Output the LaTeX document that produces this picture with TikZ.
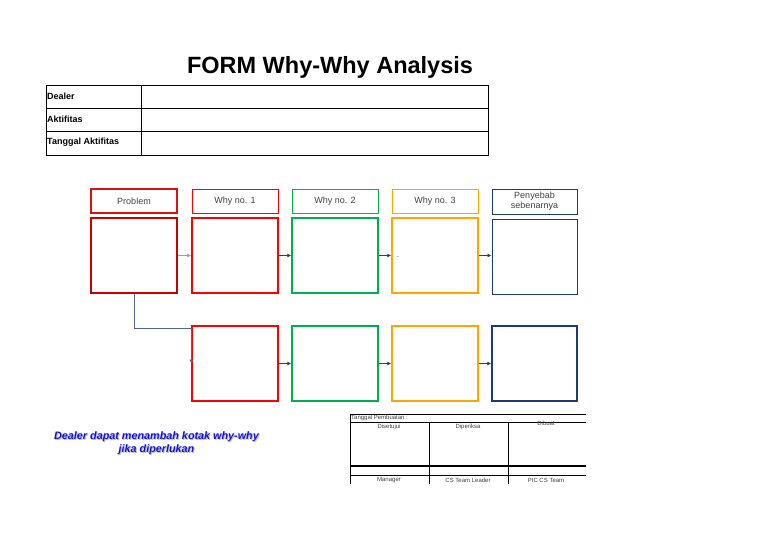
\documentclass[tikz,border=0pt]{standalone}
\usepackage{fontspec}
\setmainfont{Liberation Sans}
\usetikzlibrary{arrows.meta}
\definecolor{probred}{HTML}{C80000}
\definecolor{headred}{HTML}{E01010}
\definecolor{whyred}{HTML}{FF0000}
\definecolor{whygreen}{HTML}{00B050}
\definecolor{whyorange}{HTML}{FFA500}
\definecolor{causeblue}{HTML}{1F3A7A}
\definecolor{connblue}{HTML}{22407A}
\definecolor{txtgray}{HTML}{404040}
\definecolor{noteblue}{HTML}{1010E0}
\begin{document}
\begin{tikzpicture}[x=1pt, y=-1pt,
  every node/.style={inner sep=0pt, font=\fontsize{9}{10}\selectfont},
  head/.style={draw, line width=1pt, minimum width=86pt, minimum height=24pt, text=txtgray, align=center},
  box/.style={draw, line width=1.5pt, minimum width=86pt, minimum height=75pt},
  conn/.style={draw=connblue, line width=0.7pt, -{Latex[length=4pt,width=4pt]}},
  lbl/.style={anchor=west, font=\bfseries\fontsize{9}{10}\selectfont},
  sig/.style={text=txtgray, font=\fontsize{6}{7}\selectfont}]
  \fill[white] (0,0) rectangle (768,543);
  \useasboundingbox (0,0) rectangle (768,543);
  \node[font=\bfseries\fontsize{23.5}{28}\selectfont] (title) at (330,67) {FORM Why-Why Analysis};
  % header table
  \draw[line width=0.8pt] (46,85) rectangle (488,155);
  \draw[line width=0.8pt] (46,108) -- (488,108) (46,131) -- (488,131) (141,85) -- (141,155);
  \node[lbl] (dealer) at (47,96) {Dealer};
  \node[lbl] (aktif) at (47,119) {Aktifitas};
  \node[lbl] (tgl) at (47,142) {Tanggal Aktifitas};
  % column heads
  \node[head, draw=headred, line width=1.2pt] (hprob) at (134,201) {Problem};
  \node[head, draw=whyred] (hwhy1) at (235,201) {Why no. 1};
  \node[head, draw=whygreen] (hwhy2) at (335,201) {Why no. 2};
  \node[head, draw=whyorange] (hwhy3) at (435,201) {Why no. 3};
  \node[head, draw=causeblue, minimum width=85pt, minimum height=25pt] (hcause) at (534.5,201.5) {Penyebab\\sebenarnya};
  % first row
  \node[box, draw=probred, line width=1.8pt] (prob) at (134,255.5) {};
  \node[box, draw=whyred] (why1a) at (235,255.5) {};
  \node[box, draw=whygreen] (why2a) at (335,255.5) {};
  \node[box, draw=whyorange] (why3a) at (435,255.5) {};
  \node[box, draw=causeblue, line width=1pt, minimum width=85pt] (causea) at (534.5,256.5) {};
  \node[font=\fontsize{5}{5}\selectfont] (dash) at (398,258) {-};
  % second row
  \node[box, draw=whyred] (why1b) at (235,363.5) {};
  \node[box, draw=whygreen] (why2b) at (335,363.5) {};
  \node[box, draw=whyorange] (why3b) at (435,363.5) {};
  \node[box, draw=causeblue, minimum width=85pt] (causeb) at (534.5,363.5) {};
  % arrows
  \draw[conn, draw=connblue!50] (prob) -- (why1a);
  \draw[conn] (why1a) -- (why2a);
  \draw[conn] (why2a) -- (why3a);
  \draw[conn] (why3a.east) -- (causea.west |- why3a.east);
  \draw[conn, draw=connblue!80] (prob.south) |- ([yshift=-3pt]why1b.north west) -- (why1b.west);
  \draw[conn] (why1b) -- (why2b);
  \draw[conn] (why2b) -- (why3b);
  \draw[conn] (why3b) -- (causeb);
  % note
  \node[align=center, text=gray!50, font=\bfseries\itshape\fontsize{10.8}{13}\selectfont] (noteshadow) at (157.5,444) {Dealer dapat menambah kotak why-why\\jika diperlukan};
  \node[align=center, text=noteblue, font=\bfseries\itshape\fontsize{10.8}{13}\selectfont] (note) at (156.5,443) {Dealer dapat menambah kotak why-why\\jika diperlukan};
  % sign table
  \draw[line width=0.5pt] (350,414) -- (586,414) (350,422) -- (586,422) (350,475) -- (586,475);
  \draw[line width=1.5pt] (350,466) -- (586,466);
  \draw[line width=0.6pt] (350,414) -- (350,484) (429,422) -- (429,484) (508,422) -- (508,484);
  \node[sig, anchor=west] (tglbuat) at (351,417.5) {Tanggal Pembuatan :};
  \node[sig] (setuju) at (389,426.5) {Disetujui};
  \node[sig] (periksa) at (468,426.5) {Diperiksa};
  \node[sig] (buat) at (546,423.5) {Dibuat};
  \node[sig] (mgr) at (389,480) {Manager};
  \node[sig] (csl) at (468,480) {CS Team Leader};
  \node[sig] (pic) at (546,480) {PIC CS Team};
\end{tikzpicture}
\end{document}
